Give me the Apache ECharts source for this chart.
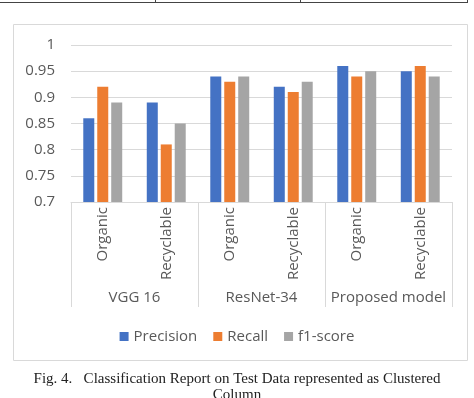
<!DOCTYPE html>
<html>
<head>
<meta charset="utf-8">
<script src="https://cdn.jsdelivr.net/npm/echarts@6/dist/echarts.min.js"></script>
<style>
  html, body { margin: 0; padding: 0; background: #fff; }
  #chart { width: 474px; height: 398px; }
</style>
</head>
<body>
<div id="chart"></div>
<script>
// data
var classes = ["Organic", "Recyclable", "Organic", "Recyclable", "Organic", "Recyclable"];
var models = ["VGG 16", "ResNet-34", "Proposed model"];
var precision = [0.86, 0.89, 0.94, 0.92, 0.96, 0.95];
var recall = [0.92, 0.81, 0.93, 0.91, 0.94, 0.96];
var f1score = [0.89, 0.85, 0.94, 0.93, 0.95, 0.94];

var chart = echarts.init(document.getElementById("chart"));
var font = "Open Sans";

var option = {
  animation: false,
  title: {
    text: "Fig. 4.   Classification Report on Test Data represented as Clustered\nColumn",
    left: "center",
    top: 366,
    textStyle: {
      fontFamily: "Liberation Serif",
      fontSize: 15,
      fontWeight: "normal",
      color: "#222",
      lineHeight: 16,
    },
  },
  legend: {
    top: 324,
    left: "center",
    itemWidth: 9,
    itemHeight: 9,
    itemGap: 16,
    icon: "rect",
    textStyle: { fontFamily: font, fontSize: 15, color: "#595959" },
  },
  grid: { left: 71, right: 22, top: 45, bottom: 196 },
  xAxis: [
    {
      type: "category",
      data: classes,
      axisLine: { lineStyle: { color: "#d9d9d9" } },
      axisTick: { show: false },
      axisLabel: {
        rotate: 90,
        interval: 0,
        margin: 5,
        fontFamily: font,
        fontSize: 15,
        color: "#595959",
      },
    },
    {
      type: "category",
      position: "bottom",
      data: models,
      axisLine: { show: false },
      axisTick: { show: true, length: 105, lineStyle: { color: "#d9d9d9" } },
      axisLabel: {
        margin: 88,
        interval: 0,
        fontFamily: font,
        fontSize: 15,
        color: "#595959",
      },
    },
  ],
  yAxis: {
    type: "value",
    min: 0.7,
    max: 1,
    interval: 0.05,
    axisLine: { show: false },
    axisTick: { show: false },
    splitLine: { lineStyle: { color: "#d9d9d9" } },
    axisLabel: { margin: 16, fontFamily: font, fontSize: 15, color: "#595959" },
  },
  series: [
    { name: "Precision", type: "bar", data: precision, itemStyle: { color: "#4472C4" }, barWidth: 11, barGap: "27%" },
    { name: "Recall", type: "bar", data: recall, itemStyle: { color: "#ED7D31" }, barWidth: 11, barGap: "27%" },
    { name: "f1-score", type: "bar", data: f1score, itemStyle: { color: "#A5A5A5" }, barWidth: 11, barGap: "27%" },
  ],
  graphic: [
    // chart frame
    { type: "rect", shape: { x: 13.5, y: 24.5, width: 454, height: 336 }, style: { fill: null, stroke: "#d9d9d9", lineWidth: 1 }, z: -1 },
    // bottom edge of the table above
    { type: "line", shape: { x1: 0, y1: 2.5, x2: 467, y2: 2.5 }, style: { stroke: "#444", lineWidth: 1 } },
    { type: "line", shape: { x1: 155.5, y1: 0, x2: 155.5, y2: 3 }, style: { stroke: "#444", lineWidth: 1 } },
    { type: "line", shape: { x1: 300.5, y1: 0, x2: 300.5, y2: 3 }, style: { stroke: "#444", lineWidth: 1 } },
    { type: "line", shape: { x1: 467.5, y1: 0, x2: 467.5, y2: 3 }, style: { stroke: "#444", lineWidth: 1 } },
  ],
};

chart.setOption(option);
</script>
</body>
</html>
